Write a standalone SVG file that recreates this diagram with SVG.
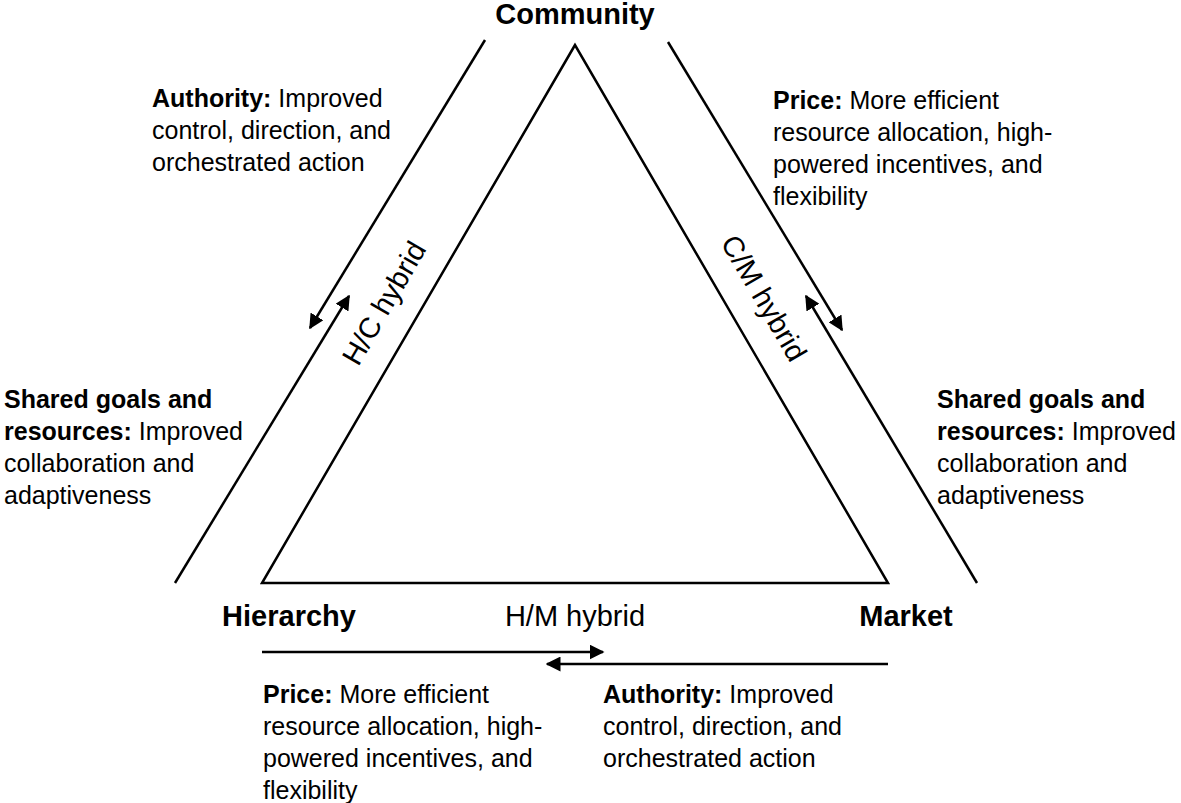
<svg xmlns="http://www.w3.org/2000/svg" width="1181" height="803" viewBox="0 0 1181 803">
<style>
text{font-family:"Liberation Sans",Arial,sans-serif;font-size:25px;fill:#000}
.t{font-size:29px;font-weight:bold}
.h{font-size:29px}
.b{font-weight:bold}
.l{stroke:#000;stroke-width:2.5;fill:none}
</style>
<defs><marker id="a" viewBox="0 0 10 10" refX="9" refY="5" markerWidth="6" markerHeight="6" orient="auto" markerUnits="strokeWidth"><path d="M0,0L10,5L0,10z" fill="#000"/></marker></defs>
<rect width="1181" height="803" fill="#fff"/>
<g id="triangle"><polygon points="575,45 262,583 888,583" class="l" stroke-width="2"/></g>
<g id="connectors">
<line x1="485" y1="40" x2="310" y2="328" class="l" marker-end="url(#a)"/>
<line x1="175" y1="583" x2="349" y2="296" class="l" marker-end="url(#a)"/>
<line x1="668" y1="42" x2="842" y2="330" class="l" marker-end="url(#a)"/>
<line x1="977" y1="583" x2="806" y2="296" class="l" marker-end="url(#a)"/>
<line x1="262" y1="652" x2="603" y2="652" class="l" marker-end="url(#a)"/>
<line x1="888" y1="664" x2="547" y2="664" class="l" marker-end="url(#a)"/>
</g>
<g id="community"><text x="575" y="24" class="t" text-anchor="middle">Community</text></g>
<g id="hierarchy"><text x="289" y="626" class="t" text-anchor="middle">Hierarchy</text></g>
<g id="market"><text x="906" y="626" class="t" text-anchor="middle">Market</text></g>
<g id="hm"><text x="575" y="626" class="h" text-anchor="middle">H/M hybrid</text></g>
<g id="hc"><text transform="translate(384,303) rotate(-59.8)" class="h" text-anchor="middle" dy="10">H/C hybrid</text></g>
<g id="cm"><text transform="translate(764,298) rotate(59.8)" class="h" text-anchor="middle" dy="10">C/M hybrid</text></g>
<g id="auth-left"><text x="152" y="107"><tspan class="b">Authority:</tspan> Improved</text><text x="152" y="139">control, direction, and</text><text x="152" y="171">orchestrated action</text></g>
<g id="price-right"><text x="773" y="109"><tspan class="b">Price:</tspan> More efficient</text><text x="773" y="141">resource allocation, high-</text><text x="773" y="173">powered incentives, and</text><text x="773" y="205">flexibility</text></g>
<g id="shared-left"><text x="4" y="408" class="b">Shared goals and</text><text x="4" y="440"><tspan class="b">resources:</tspan> Improved</text><text x="4" y="472">collaboration and</text><text x="4" y="504">adaptiveness</text></g>
<g id="shared-right"><text x="937" y="408" class="b">Shared goals and</text><text x="937" y="440"><tspan class="b">resources:</tspan> Improved</text><text x="937" y="472">collaboration and</text><text x="937" y="504">adaptiveness</text></g>
<g id="price-bottom"><text x="263" y="703"><tspan class="b">Price:</tspan> More efficient</text><text x="263" y="735">resource allocation, high-</text><text x="263" y="767">powered incentives, and</text><text x="263" y="799">flexibility</text></g>
<g id="auth-bottom"><text x="603" y="703"><tspan class="b">Authority:</tspan> Improved</text><text x="603" y="735">control, direction, and</text><text x="603" y="767">orchestrated action</text></g>
</svg>
